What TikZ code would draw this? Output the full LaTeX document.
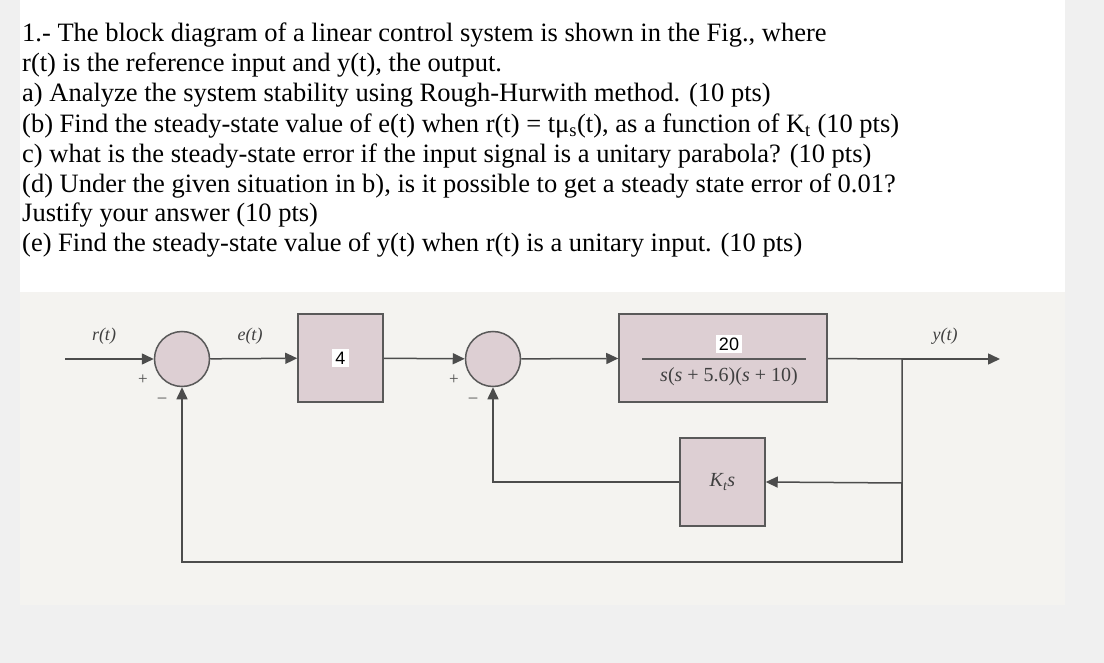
\documentclass[tikz,border=0pt]{standalone}
\usepackage{fontspec}
\setmainfont{Liberation Serif}
\newfontfamily\sansf{Liberation Sans}
\usetikzlibrary{arrows.meta}
\definecolor{pinkbox}{HTML}{DDCFD3}
\definecolor{diagbg}{HTML}{F4F3F0}
\begin{document}
\begin{tikzpicture}[x=1pt,y=-1pt,
  blk/.style={draw=black!65,fill=pinkbox,line width=1.5pt,inner sep=0pt},
  wire/.style={draw=black!70,line width=1.5pt},
  arr/.style={wire,-{Triangle[length=12pt,width=11pt]}},
  qline/.style={anchor=base west,inner sep=0pt,font=\fontsize{26.5}{30}\selectfont},
  lab/.style={font=\fontsize{18}{20}\selectfont\itshape,text=black!75},
  sgn/.style={font=\fontsize{17}{18}\selectfont,text=black!70}]
\useasboundingbox (0,0) rectangle (1104,663);
\fill[black!6] (0,0) rectangle (1104,663);
\fill[white] (20,0) rectangle (1065,292);
\fill[diagbg] (20,292) rectangle (1065,605);
\node[qline] (l1) at (22,42) {1.- The block diagram of a linear control system is shown in the Fig., where};
\node[qline] (l2) at (22,72) {r(t) is the reference input and y(t), the output.};
\node[qline] (l3) at (22,102) {a) Analyze the system stability using Rough-Hurwith method. (10 pts)};
\node[qline] (l4) at (22,133) {(b) Find the steady-state value of e(t) when r(t) = tμ\textsubscript{s}(t), as a function of K\textsubscript{t} (10 pts)};
\node[qline] (l5) at (22,163) {c) what is the steady-state error if the input signal is a unitary parabola? (10 pts)};
\node[qline] (l6) at (22,193) {(d) Under the given situation in b), is it possible to get a steady state error of 0.01?};
\node[qline] (l7) at (22,222) {Justify your answer (10 pts)};
\node[qline] (l8) at (22,252) {(e) Find the steady-state value of y(t) when r(t) is a unitary input. (10 pts)};
% diagram
\coordinate (in) at (65,359);
\node[blk,circle,minimum size=55pt] (s1) at (182,359) {};
\node[blk,minimum width=85pt,minimum height=88pt] (g1) at (340.5,358) {};
\node[fill=white,inner sep=3pt,font=\sansf\fontsize{18}{20}\selectfont] (g1t) at (g1) {4};
\node[blk,circle,minimum size=55pt] (s2) at (493,359) {};
\node[blk,minimum width=208pt,minimum height=88pt] (g2) at (723,358) {};
\node[fill=white,inner sep=3pt,font=\sansf\fontsize{18}{20}\selectfont] (num) at (729,344) {20};
\draw[black!65,line width=1.2pt] (642,359) -- (806,359);
\node[font=\fontsize{20}{22}\selectfont,text=black!75] (den) at (729,377) {\textit{s}(\textit{s} + 5.6)(\textit{s} + 10)};
\node[blk,minimum width=85pt,minimum height=88pt] (h) at (722.5,482) {};
\node[lab,font=\fontsize{20}{22}\selectfont\itshape] (ht) at (h) {K\textsubscript{t}s};
\coordinate (br) at (902,359);
\coordinate (out) at (1000,359);
\coordinate (fb1) at (902,483);
\coordinate (fb2) at (902,562);
\draw[arr] (in) -- (s1);
\draw[arr] (s1) -- (g1);
\draw[arr] (g1) -- (s2);
\draw[arr] (s2) -- (g2);
\draw[wire] (g2) -- (br);
\draw[arr] (br) -- (out);
\draw[arr] (br) -- (fb1) -- (h.east);
\draw[arr] (h.west) -| (s2.south);
\draw[arr] (fb1) -- (fb2) -| (s1.south);
\node[lab] (rt) at (104,336) {r(t)};
\node[lab] (et) at (250,336) {e(t)};
\node[lab] (yt) at (945,336) {y(t)};
\node[sgn] (p1) at (143,380) {+};
\node[sgn] (m1) at (162,400) {–};
\node[sgn] (p2) at (454,380) {+};
\node[sgn] (m2) at (473,400) {–};
\end{tikzpicture}
\end{document}
